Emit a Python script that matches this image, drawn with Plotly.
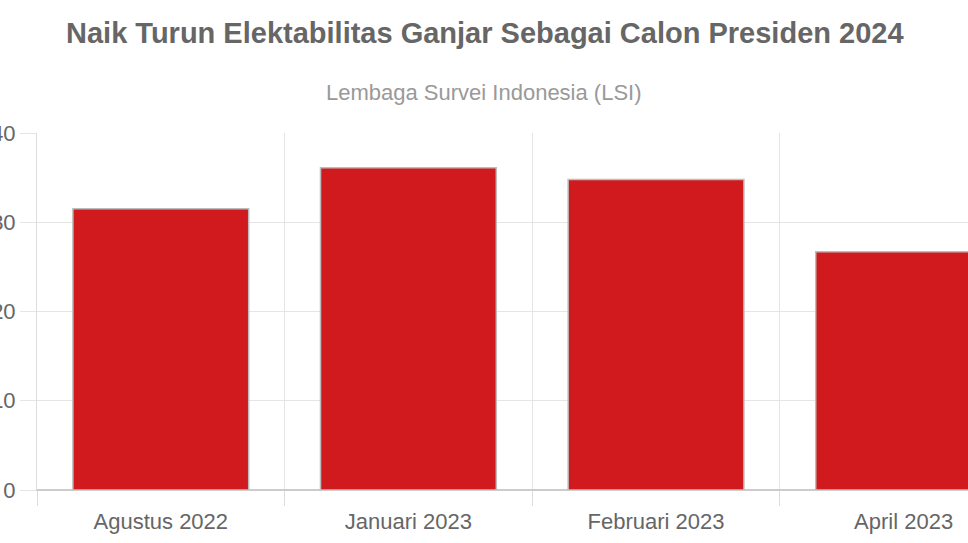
import plotly.graph_objects as go

categories = ["Agustus 2022", "Januari 2023", "Februari 2023", "April 2023"]
values = [31.5, 36.1, 34.8, 26.7]
title_text = "Naik Turun Elektabilitas Ganjar Sebagai Calon Presiden 2024"
subtitle_text = "Lembaga Survei Indonesia (LSI)"

W, H = 968, 543
ML, MR, MT, MB = 37, 0, 133, 53
pw, ph = W - ML - MR, H - MT - MB


def px_to_paper_x(px):
    return (px - ML) / pw


def px_to_paper_y(py):
    return (H - MB - py) / ph


fig = go.Figure()
fig.add_trace(go.Bar(
    x=categories, y=values,
    marker=dict(color="#D11A1D", line=dict(color="#BDBDBD", width=1.5)),
    width=0.71,
    hoverinfo="x+y",
))

fig.update_layout(
    width=W, height=H,
    margin=dict(l=ML, r=MR, t=MT, b=MB),
    paper_bgcolor="white", plot_bgcolor="white",
    font=dict(family="Liberation Sans, Arial, sans-serif", color="#666666"),
    showlegend=False,
    annotations=[
        dict(text="<b>" + title_text + "</b>", x=px_to_paper_x(484.5), y=px_to_paper_y(33),
             xref="paper", yref="paper",
             showarrow=False, font=dict(size=29, color="#666666"), xanchor="center", yanchor="middle"),
        dict(text=subtitle_text, x=px_to_paper_x(483.5), y=px_to_paper_y(93),
             xref="paper", yref="paper",
             showarrow=False, font=dict(size=22, color="#999999"), xanchor="center", yanchor="middle"),
    ],
)

fig.update_xaxes(
    type="category", range=[-0.5, 3.26],
    tickson="boundaries", ticks="outside", ticklen=15, tickcolor="#DDDDDD",
    showgrid=True, gridcolor="#E5E5E5", gridwidth=1,
    showline=True, linecolor="#CCCCCC", linewidth=1,
    tickfont=dict(size=22, color="#666666"),
    ticklabelstandoff=12,
    automargin=False,
)
fig.update_yaxes(
    range=[0, 40], dtick=10, ticks="outside", ticklen=16, tickcolor="#E5E5E5",
    showgrid=True, gridcolor="#E5E5E5", gridwidth=1,
    showline=True, linecolor="#DDDDDD", linewidth=1,
    zeroline=True, zerolinecolor="#CCCCCC",
    tickfont=dict(size=22, color="#666666"),
    automargin=False,
)

fig.write_html("out.html")
